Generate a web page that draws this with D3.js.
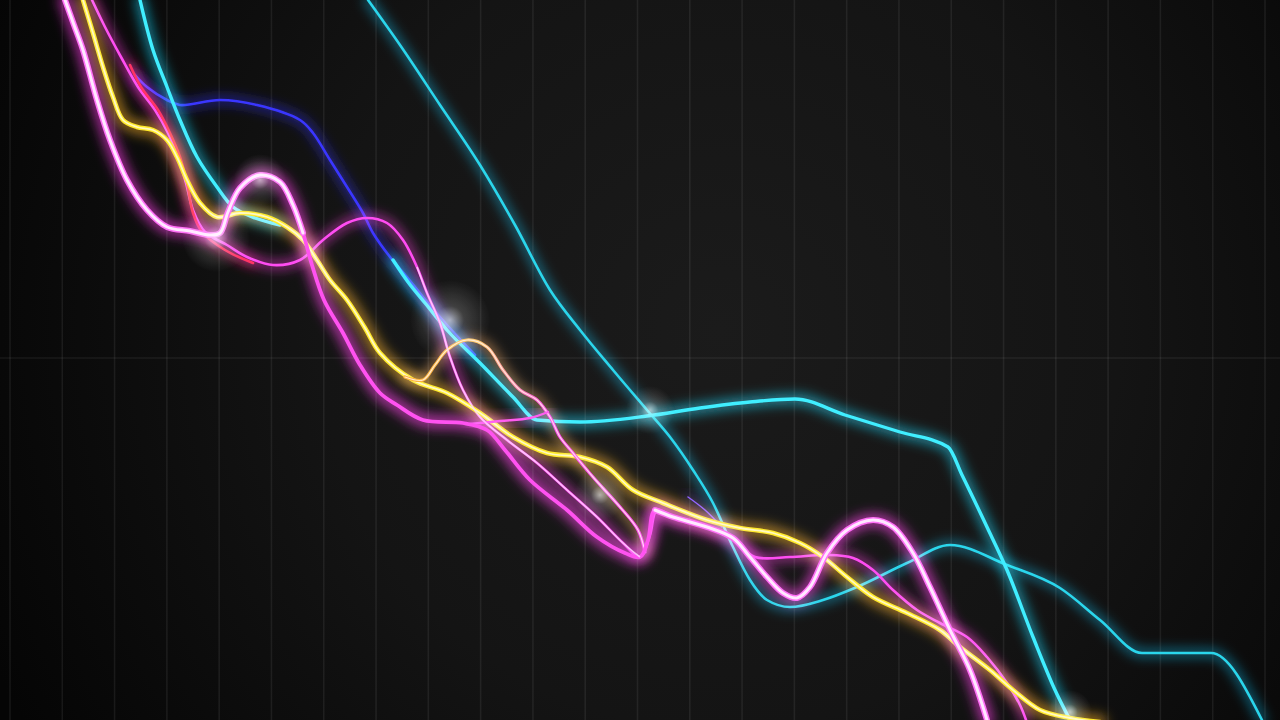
<!DOCTYPE html>
<html><head><meta charset="utf-8">
<script src="https://cdn.jsdelivr.net/npm/d3@7"></script>
<style>html,body{margin:0;padding:0;background:#0b0b0b;overflow:hidden}</style>
</head><body><svg id="c" width="1280" height="720"></svg>
<script>
// ---- data (x: time units 0..128, y: value units 0..72) ----
const gridColumns = d3.range(25);
const gridRows = [36.2];

const cyanRight = [[36.8,72],[40.0,67.5],[44.0,61.5],[48.0,55.5],[51.5,49.5],[55.0,43.0],[58.0,39.0],[61.3,35.0],[64.7,31.0],[67.0,28.3],[69.3,25.0],[71.3,21.7],[73.3,17.3],[75.0,14.0],[76.7,12.0],[79.0,11.3],[82.3,12.0],[85.7,13.3],[90.7,15.7],[95.0,17.5],[100.7,15.5],[106.0,13.2],[110.0,10.0],[114.2,6.7],[121.1,6.7],[126.2,0]];

const cyanLeftUpper = [[14.0,72],[15.3,67],[16.7,63.3],[18.0,60],[19.7,56.3],[21.7,53.3],[23.3,51.3],[25.5,50.2],[28.0,49.5]];
const cyanLeftLower = [[39.3,46.0],[40.8,43.8],[42.5,41.7],[44.7,39.0],[48.0,35.7],[51.3,32.3],[53.7,30.0],[58.0,29.8],[64.7,30.4],[70.0,31.2],[75.0,31.8],[79.5,32.1],[84.5,30.5],[90.0,28.8],[94.8,27.3],[96.2,24.5],[98.7,19.3],[100.7,15.0],[103.3,8.3],[105.5,3.0],[107.0,0]];

const blueLine = [[13.5,64.5],[14.7,63.3],[16.7,62],[18.0,61.5],[22.0,62],[25.7,61.5],[30.0,60],[31.3,58.7],[33.0,56],[34.7,53.3],[36.3,50.7],[37.3,48.7],[39.0,46.3],[40.7,44.3],[42.3,42.3],[44.7,39.5],[47.5,36.5]];
const blueSpark = [[68.8,22.3],[70.5,21],[72.2,19.3]];

const redLine = [[13.0,65.5],[14.1,63.3],[15.8,61],[17.0,58.7],[18.0,56.3],[18.7,53.7],[19.3,50.7],[20.2,48.8],[22.5,47],[25.3,45.7]];

const magentaThin = [[9.2,72],[10.5,69.3],[12.1,66.3],[13.8,63.3],[15.5,61],[16.8,58.7],[17.8,56.3],[18.6,53.7],[19.3,51],[20.5,48.8],[22.7,47.5],[24.7,46.3],[27.3,45.5],[30.0,46],[32.3,48],[34.7,49.7],[36.7,50.2],[38.7,49.7],[40.3,48],[41.7,45.3],[42.7,42.7],[44.0,39.7],[45.0,36.3],[46.3,33],[48.0,30.3],[50.7,28],[53.7,25.7],[56.7,23],[59.7,20.3],[62.3,17.7],[64.0,16.3],[65.0,18.5],[65.7,21],[67.3,20.3],[70.7,19.3],[73.3,18],[75.5,16.3],[79.0,16.3],[82.7,16.5],[85.3,16.2],[87.3,15],[89.3,13],[91.7,11],[94.0,9.7],[96.7,8.3],[98.7,6.3],[100.7,3.7],[102.0,1.5],[102.6,0]];

const magentaThick = [[6.5,72],[7.4,69.5],[8.3,67],[9.7,62],[11.0,58],[12.7,54],[14.7,51],[16.7,49.3],[19.0,48.9],[21.0,48.5],[22.0,48.7],[22.8,50.8],[24.0,53.2],[26.0,54.5],[28.0,53.8],[29.3,51.5],[30.3,48.7],[31.2,45.5],[32.4,42],[34.3,38.7],[36.0,35.5],[38.0,32.7],[39.7,31.5],[42.3,30],[46.3,29.7],[48.7,29],[50.5,27],[53.0,24],[56.7,21],[59.7,18.3],[62.5,16.7],[64.0,16.3],[64.8,18],[65.5,21],[67.3,20.3],[70.7,19.3],[73.3,18.2],[75.0,16.3],[76.7,14.3],[78.3,12.7],[79.7,12.2],[81.0,13.3],[82.7,16.7],[84.7,19],[87.3,20],[89.3,19.3],[91.3,16.7],[93.0,13.3],[95.0,9],[97.0,5],[98.7,0]];

const magentaLink = [[47,29.6],[50,29.9],[53,30.2],[54.8,30.8]];

const orangeLoop = [[40.5,34.3],[42.3,34],[43.5,35.5],[44.7,37],[46.7,38],[48.7,37.3],[50.3,35],[52.0,33],[53.7,32],[55.0,30.3],[56.0,28.3],[57.3,26.7],[59.3,24.3],[62.0,21.3],[63.8,19],[64.5,16.8]];

const yellowLine = [[8.3,72],[9.3,68.7],[10.3,65.3],[11.3,62.3],[12.3,60],[13.7,59.3],[15.3,59],[16.7,58],[17.7,56.3],[18.7,54],[20.0,51.7],[21.7,50.3],[24.0,50.7],[26.7,50.3],[28.7,49.3],[30.3,48],[31.7,46],[33.0,44],[34.7,42],[36.5,39.2],[38.0,36.7],[41.3,34],[44.7,32.7],[48.0,30.7],[51.3,28.3],[54.7,26.7],[58.0,26.3],[60.7,25.3],[63.3,23],[66.3,21.7],[70.7,20],[74.0,19.2],[77.3,18.7],[80.0,17.7],[82.3,16.3],[84.7,14.3],[87.3,12.3],[90.7,10.7],[94.0,9],[96.0,7.3],[99.0,5],[101.3,3],[104.0,1],[107.0,0.2],[110.0,-0.2]];

const flares = [[21.6,48.2],[45.0,40.0],[60.0,22.5],[65.0,31.0],[107.0,0.8],[26.0,54.0]];

// ---- drawing ----
const W = 1280, H = 720;
const x = d3.scaleLinear().domain([0,128]).range([0,W]);
const y = d3.scaleLinear().domain([0,72]).range([H,0]);
const gx = d3.scaleLinear().domain([0,24]).range([x(1.0), x(126.5)]);

const svg = d3.select('#c');
const defs = svg.append('defs');

const bg = defs.append('radialGradient').attr('id','bg')
  .attr('gradientUnits','userSpaceOnUse').attr('cx',720).attr('cy',330).attr('r',800);
bg.append('stop').attr('offset','0').attr('stop-color','#1b1b1b');
bg.append('stop').attr('offset','0.5').attr('stop-color','#141414');
bg.append('stop').attr('offset','1').attr('stop-color','#050505');

defs.append('filter').attr('id','blur6').attr('x','-30%').attr('y','-30%').attr('width','160%').attr('height','160%')
  .append('feGaussianBlur').attr('stdDeviation',6);

const og = defs.append('linearGradient').attr('id','og').attr('gradientUnits','userSpaceOnUse')
  .attr('x1',x(42)).attr('y1',0).attr('x2',x(55)).attr('y2',0);
og.append('stop').attr('offset','0').attr('stop-color','#ffb43a');
og.append('stop').attr('offset','0.45').attr('stop-color','#ffc868');
og.append('stop').attr('offset','1').attr('stop-color','#ff4cf0');

const fg = defs.append('radialGradient').attr('id','flare');
fg.append('stop').attr('offset','0').attr('stop-color','#ffffff').attr('stop-opacity',0.6);
fg.append('stop').attr('offset','0.35').attr('stop-color','#ffffff').attr('stop-opacity',0.18);
fg.append('stop').attr('offset','1').attr('stop-color','#ffffff').attr('stop-opacity',0);

svg.append('rect').attr('width',W).attr('height',H).attr('fill','url(#bg)');

const grid = svg.append('g');
grid.selectAll('line.v').data(gridColumns).join('line').attr('class','v')
  .attr('x1',d=>gx(d)).attr('x2',d=>gx(d)).attr('y1',0).attr('y2',H)
  .attr('stroke','rgba(255,255,255,0.07)').attr('stroke-width',1.6);
grid.selectAll('line.h').data(gridRows).join('line').attr('class','h')
  .attr('x1',0).attr('x2',W).attr('y1',d=>y(d)).attr('y2',d=>y(d))
  .attr('stroke','rgba(255,255,255,0.065)').attr('stroke-width',1.6);

const smooth = d3.line().x(d=>x(d[0])).y(d=>y(d[1])).curve(d3.curveCatmullRom.alpha(0.5));
const mono = d3.line().x(d=>x(d[0])).y(d=>y(d[1])).curve(d3.curveMonotoneX);

const series = [
  {data: cyanRight, gen: mono, color:'#2ad6ec', w:2.6, glow:'#10c8ff', gw:9, go:0.45},
  {data: blueLine, gen: smooth, color:'#3a36ff', w:2.6, glow:'#2a2aff', gw:8, go:0.55},
  {data: blueSpark, gen: smooth, color:'#8a5cff', w:1.5, glow:'#6a4cff', gw:5, go:0.5},
  {data: cyanLeftUpper, gen: smooth, color:'#40eeff', w:3.4, glow:'#10d8ff', gw:11, go:0.55},
  {data: cyanLeftLower, gen: mono, color:'#40eeff', w:3.4, glow:'#10d8ff', gw:11, go:0.55},
  {data: magentaThin, gen: smooth, color:'#ff4cf2', w:2.6, glow:'#ff30e0', gw:9, go:0.55},
  {data: redLine, gen: smooth, color:'#ff3464', w:2.6, glow:'#ff2050', gw:8, go:0.5},
  {data: yellowLine, gen: smooth, color:'#ffea2a', w:4.6, glow:'#ffb020', gw:14, go:0.55, core:'#fffbd8', cw:1.8},
  {data: orangeLoop, gen: smooth, color:'url(#og)', w:3.2, glow:'#ffb060', gw:10, go:0.5, core:'#fff2e8', cw:1.2},
  {data: magentaLink, gen: smooth, color:'#ff5cf0', w:2.4, glow:'#ff40e0', gw:8, go:0.5},
  {data: magentaThick, gen: smooth, color:'#ff52f0', w:3.8, glow:'#ff30e8', gw:14, go:0.6}
];

const layer = svg.append('g');
series.forEach(s=>{
  const g = layer.append('g');
  const d = s.gen(s.data);
  g.append('path').attr('d',d).attr('fill','none')
    .attr('stroke',s.glow).attr('stroke-width',s.gw).attr('stroke-opacity',s.go)
    .attr('stroke-linecap','round').attr('stroke-linejoin','round').attr('filter','url(#blur6)')
    .style('mix-blend-mode','screen');
  g.append('path').attr('d',d).attr('fill','none')
    .attr('stroke',s.color).attr('stroke-width',s.w)
    .attr('stroke-linecap','round').attr('stroke-linejoin','round');
  if (s.core) {
    g.append('path').attr('d',d).attr('fill','none')
      .attr('stroke',s.core).attr('stroke-width',s.cw).attr('stroke-opacity',0.85)
      .attr('stroke-linecap','round');
  }
});

// hot white cores on thick magenta sections
const hotSegments = [magentaThick.slice(0,17), magentaThick.slice(33)];
hotSegments.forEach(seg=>{
  layer.append('path').attr('d',smooth(seg)).attr('fill','none')
    .attr('stroke','#ff70f6').attr('stroke-width',6).attr('stroke-linecap','round');
  layer.append('path').attr('d',smooth(seg)).attr('fill','none')
    .attr('stroke','#ffe8ff').attr('stroke-width',3).attr('stroke-linecap','round');
});
// hot diagonal of thin magenta
layer.append('path').attr('d',smooth(magentaThin.slice(19,31))).attr('fill','none')
  .attr('stroke','#ffd8ff').attr('stroke-width',1.6).attr('stroke-opacity',0.8);

svg.append('g').selectAll('circle').data(flares).join('circle')
  .attr('cx',d=>x(d[0])).attr('cy',d=>y(d[1])).attr('r',(d,i)=>[34,40,26,24,22,26][i])
  .attr('fill','url(#flare)').style('mix-blend-mode','screen');
</script></body></html>
